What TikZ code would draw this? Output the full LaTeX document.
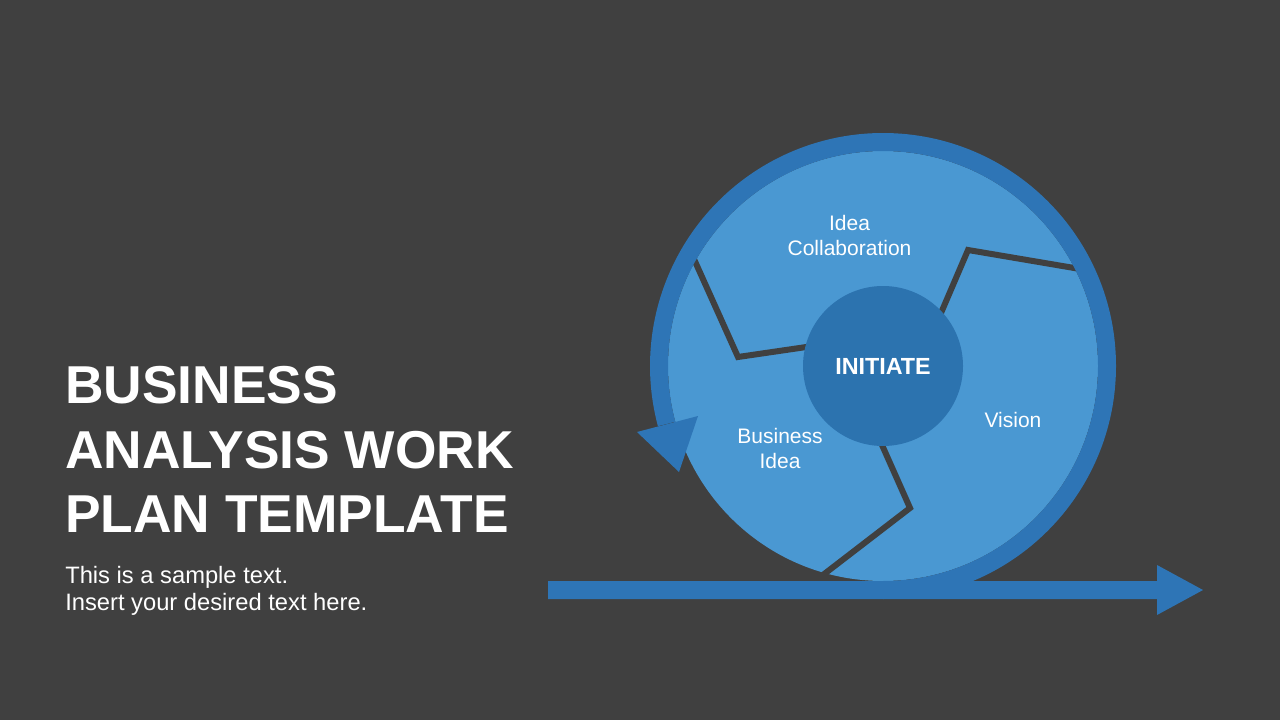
\documentclass[tikz,border=0pt]{standalone}
\usepackage{fontspec}
\setmainfont{Liberation Sans}
\definecolor{slatebg}{RGB}{64,64,64}
\definecolor{ringblue}{RGB}{46,117,182}
\definecolor{diskblue}{RGB}{74,152,210}
\definecolor{coreblue}{RGB}{44,115,175}
\tikzset{
  divider/.style={draw=slatebg, line width=4.5pt, miter limit=10},
  seglabel/.style={text=white, inner sep=0pt, anchor=base, font=\fontsize{15.75}{18.75}\selectfont},
  headline/.style={text=white, inner sep=0pt, anchor=base west, font=\fontsize{40}{48}\selectfont\bfseries},
  subline/.style={text=white, inner sep=0pt, anchor=base west, font=\fontsize{17.8}{20}\selectfont},
}
\begin{document}
\begin{tikzpicture}[x=0.75pt, y=-0.75pt]
    % Background
    \fill[slatebg] (0,0) rectangle (1280,720);
    \useasboundingbox (0,0) rectangle (1280,720);

    % Disc
    \coordinate (hub) at (883,366);
    \fill[diskblue] (hub) circle[radius=215];

    % Dividers
    \draw[divider] (689,248) -- (738,357) -- (820,345);
    \draw[divider] (932,334) -- (968,250) -- (1086,270);
    \draw[divider] (878,436) -- (910,508) -- (819,578);

    % Ring with arrowhead
    \draw[ringblue, line width=13.5pt] (hub) ++(90:224) arc[start angle=90, end angle=-195, radius=224];
    \fill[ringblue] (637,432) -- (698,416) -- (679,472) -- cycle;

    % Core
    \node[circle, fill=coreblue, minimum size=120pt, inner sep=0pt, text=white,
          font=\fontsize{17.5}{20}\selectfont\bfseries] (init) at (hub) {INITIATE};

    % Timeline arrow
    \fill[ringblue] (548,581) -- (1157,581) -- (1157,565) -- (1203,590)
        -- (1157,615) -- (1157,599) -- (548,599) -- cycle;

    % Segment labels
    \node[seglabel] (collabA) at (849.5,230) {Idea};
    \node[seglabel] (collabB) at (849.5,255) {Collaboration};
    \node[seglabel] (bizA) at (780,443) {Business};
    \node[seglabel] (bizB) at (780,468) {Idea};
    \node[seglabel] (vision) at (1013,427) {Vision};

    % Title
    \node[headline] (head1) at (65,403) {BUSINESS};
    \node[headline] (head2) at (65,468) {ANALYSIS WORK};
    \node[headline] (head3) at (65,532) {PLAN TEMPLATE};
    \node[subline] (sub1) at (65,583) {This is a sample text.};
    \node[subline] (sub2) at (65,610) {Insert your desired text here.};
\end{tikzpicture}
\end{document}
